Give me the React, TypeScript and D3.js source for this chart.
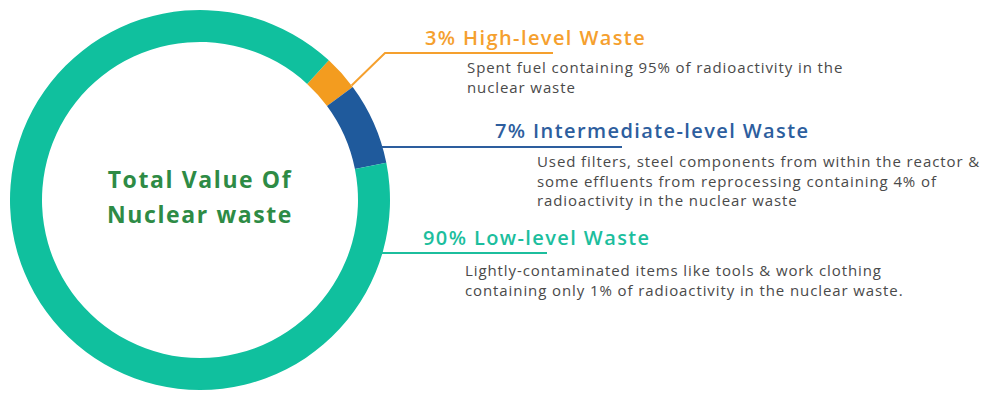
import { useMemo } from 'react';
import * as d3 from 'd3';

// waste categories, in clockwise order starting near the top-right
const categories = ['High-level Waste', 'Intermediate-level Waste', 'Low-level Waste'];
const shares = [3, 7, 90];
const descriptions = [
  ['Spent fuel containing 95% of radioactivity in the', 'nuclear waste'],
  [
    'Used filters, steel components from within the reactor &',
    'some effluents from reprocessing containing 4% of',
    'radioactivity in the nuclear waste',
  ],
  [
    'Lightly-contaminated items like tools & work clothing',
    'containing only 1% of radioactivity in the nuclear waste.',
  ],
];
const centerLines = ['Total Value Of', 'Nuclear waste'];

const ringColors = ['#F39C1F', '#1F5A9C', '#10C09E'];
const headColors = ['#F5A02E', '#2D5E9E', '#1CBE9D'];

// label layout (leader line y, line end x, heading x, description x)
const labelLayout = [
  { lineY: 53, lineEnd: 553, elbowX: 385, headX: 425, headY: 45, descX: 467, descY: 73 },
  { lineY: 147, lineEnd: 622, elbowX: 0, headX: 495, headY: 138, descX: 537, descY: 167 },
  { lineY: 253, lineEnd: 547, elbowX: 0, headX: 423, headY: 245, descX: 465, descY: 276 },
];

const width = 1000;
const height = 402;
const cx = 200;
const cy = 200;
const outerR = 190;
const innerR = 158;

export default function App() {
  const arcs = useMemo(() => {
    const total = d3.sum(shares);
    const start = (78.7 / 360) * 2 * Math.PI - (shares[0] + shares[1]) / total * 2 * Math.PI;
    return d3
      .pie<number>()
      .sort(null)
      .startAngle(start)
      .endAngle(start + 2 * Math.PI)(shares);
  }, []);

  const arcGen = d3.arc<d3.PieArcDatum<number>>().innerRadius(innerR).outerRadius(outerR);

  const font = "'Open Sans', 'Noto Sans', sans-serif";

  return (
    <svg
      width={width}
      height={height}
      style={{ position: 'absolute', left: 0, top: 0, background: '#fff' }}
    >
      <g transform={`translate(${cx},${cy})`}>
        {arcs.map((a, i) => (
          <path key={i} d={arcGen(a) || ''} fill={ringColors[i]} />
        ))}
        {centerLines.map((t, i) => (
          <text
            key={t}
            x={0}
            y={-12 + i * 35}
            textAnchor="middle"
            fontFamily={font}
            fontWeight={700}
            fontSize={23}
            letterSpacing={1.6}
            fill="#2E8B45"
          >
            {t}
          </text>
        ))}
      </g>

      {arcs.map((a, i) => {
        const L = labelLayout[i];
        let path: string;
        if (i === 0) {
          // anchor at the outer edge, end of the slice
          const ang = a.endAngle - 0.01;
          const x0 = cx + outerR * Math.sin(ang);
          const y0 = cy - outerR * Math.cos(ang);
          path = `M${x0},${y0}L${L.elbowX},${L.lineY}L${L.lineEnd},${L.lineY}`;
        } else {
          const dy = L.lineY - cy;
          const x0 = cx + Math.sqrt(outerR * outerR - dy * dy) - 1;
          path = `M${x0},${L.lineY}L${L.lineEnd},${L.lineY}`;
        }
        return (
          <g key={categories[i]}>
            <path d={path} fill="none" stroke={headColors[i]} strokeWidth={2} />
            <text
              x={L.headX}
              y={L.headY}
              fontFamily={font}
              fontWeight={600}
              fontSize={20}
              letterSpacing={1.4}
              fill={headColors[i]}
            >
              {`${shares[i]}% ${categories[i]}`}
            </text>
            {descriptions[i].map((line, j) => (
              <text
                key={j}
                x={L.descX}
                y={L.descY + j * 19.5}
                fontFamily={font}
                fontSize={15}
                letterSpacing={0.9}
                fill="#4A4A4A"
              >
                {line}
              </text>
            ))}
          </g>
        );
      })}
    </svg>
  );
}
